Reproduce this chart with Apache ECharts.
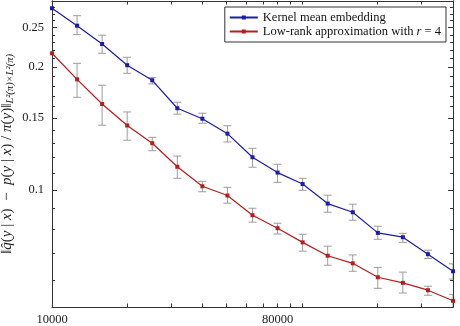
<!DOCTYPE html>
<html>
<head>
<meta charset="utf-8">
<script src="https://cdn.jsdelivr.net/npm/echarts@6/dist/echarts.min.js"></script>
<style>html,body{margin:0;padding:0;background:#fff;}#c{width:460px;height:326px;}</style>
</head>
<body>
<div id="c"></div>
<script>
// sample sizes (x)
const xValues = [10000, 12599, 15874, 20000, 25198, 31748, 40000, 50397, 63496, 80000, 100794, 126992, 160000, 201587, 253984, 320000, 403175];
// Kernel mean embedding
const kmeMean = [0.2788, 0.2527, 0.2279, 0.2022, 0.1857, 0.1586, 0.1495, 0.1374, 0.1203, 0.1103, 0.1034, 0.0926, 0.0882, 0.0785, 0.0766, 0.0696, 0.0632];
const kmeLow  = [0.2788, 0.2403, 0.2163, 0.1932, 0.1819, 0.1534, 0.1457, 0.1311, 0.1137, 0.1044, 0.0998, 0.0882, 0.0843, 0.0757, 0.0744, 0.0679, 0.0605];
const kmeHigh = [0.2788, 0.2674, 0.2395, 0.2115, 0.1887, 0.1641, 0.1542, 0.1437, 0.1265, 0.1156, 0.1068, 0.0971, 0.0923, 0.0815, 0.0783, 0.0712, 0.0659];
// Low-rank approximation with r = 4
const lrMean = [0.2163, 0.1867, 0.1624, 0.1439, 0.1302, 0.1140, 0.1021, 0.0969, 0.0867, 0.0806, 0.0744, 0.0690, 0.0661, 0.0611, 0.0592, 0.0568, 0.0535];
const lrLow  = [0.2163, 0.1687, 0.1441, 0.1324, 0.1248, 0.1068, 0.0990, 0.0928, 0.0834, 0.0780, 0.0708, 0.0654, 0.0632, 0.0574, 0.0559, 0.0552, 0.0515];
const lrHigh = [0.2163, 0.2044, 0.1806, 0.1553, 0.1346, 0.1211, 0.1050, 0.1015, 0.0902, 0.0829, 0.0779, 0.0728, 0.0693, 0.0646, 0.0629, 0.0581, 0.0555];
// ticks
const xTickLabelValues = [10000, 80000];
const xTickLabels = ['10000', '80000'];
const xTickValues = [10000, 20000, 30000, 40000, 50000, 60000, 70000, 80000, 90000, 100000, 200000, 300000];
const yTickLabelValues = [0.1, 0.15, 0.2, 0.25];
const yTickLabels = ['0.1', '0.15', '0.2', '0.25'];
const yMinorTickValues = [0.06, 0.07, 0.08, 0.09, 0.11, 0.12, 0.13, 0.14, 0.16, 0.17, 0.18, 0.19, 0.21, 0.22, 0.23, 0.24, 0.26, 0.27, 0.28];
const seriesNames = ['Kernel mean embedding', 'Low-rank approximation with r = 4'];

const FONT = 'Liberation Serif';
const X_MIN = 10000, X_MAX = 403175, Y_MIN = 0.05166, Y_MAX = 0.2905;
const BLUE = '#1c1caa', RED = '#b41e1e', ERR = '#9c9c9c';

function fmt(values, labels) {
  return v => {
    for (let i = 0; i < values.length; i++) if (Math.abs(v - values[i]) / values[i] < 1e-6) return labels[i];
    return '';
  };
}

function yAxisDef(pos, ticks, len, showLabel, name) {
  return {
    type: 'log', logBase: 10, min: Y_MIN, max: Y_MAX, position: pos,
    axisLine: {show: true, onZero: false, lineStyle: {color: '#333', width: 1}},
    axisTick: {show: true, inside: true, length: len, customValues: ticks, lineStyle: {color: '#333', width: 1}},
    axisLabel: showLabel ? {show: true, customValues: yTickLabelValues, formatter: fmt(yTickLabelValues, yTickLabels), fontFamily: FONT, fontSize: 12.5, color: '#222', margin: 8} : {show: false},
    splitLine: {show: false},
    name: name || '',
    nameLocation: 'middle',
    nameGap: 36,
    nameMoveOverlap: false,
    nameTextStyle: {
      fontFamily: FONT, fontSize: 15, color: '#222',
      rich: {
        n: {fontFamily: FONT, fontSize: 15, color: '#222'},
        i: {fontFamily: FONT, fontSize: 15, fontStyle: 'italic', color: '#222'},
        s: {fontFamily: FONT, fontSize: 10.5, fontStyle: 'italic', color: '#222', padding: [7, 0, 0, 0]}
      }
    }
  };
}
function xAxisDef(pos, showLabel) {
  return {
    type: 'log', logBase: 10, min: X_MIN, max: X_MAX, position: pos,
    axisLine: {show: true, onZero: false, lineStyle: {color: '#333', width: 1}},
    axisTick: {show: true, inside: true, length: 3.5, customValues: xTickValues, lineStyle: {color: '#333', width: 1}},
    axisLabel: showLabel ? {show: true, customValues: xTickLabelValues, formatter: fmt(xTickLabelValues, xTickLabels), fontFamily: FONT, fontSize: 12.5, color: '#222', margin: 6} : {show: false},
    splitLine: {show: false}
  };
}

const yName = '{n|‖}{i|q̂}{n|(}{i|y}{n| | }{i|x}{n|)  −  }{i|p}{n|(}{i|y}{n| | }{i|x}{n|) / }{i|π}{n|(}{i|y}{n|)‖}{s|L²(π)×L²(π)}';

function errData(lo, hi) { return xValues.map((x, i) => [x, lo[i], hi[i]]); }
function errRender(params, api) {
  const x = api.value(0), lo = api.value(1), hi = api.value(2);
  if (lo === hi) return null;
  const a = api.coord([x, lo]), b = api.coord([x, hi]);
  const w = 4;
  const st = {stroke: ERR, lineWidth: 1};
  return {type: 'group', children: [
    {type: 'line', shape: {x1: a[0], y1: a[1], x2: b[0], y2: b[1]}, style: st},
    {type: 'line', shape: {x1: a[0] - w, y1: a[1], x2: a[0] + w, y2: a[1]}, style: st},
    {type: 'line', shape: {x1: b[0] - w, y1: b[1], x2: b[0] + w, y2: b[1]}, style: st}
  ]};
}

const chart = echarts.init(document.getElementById('c'), null, {renderer: 'canvas'});
chart.setOption({
  animation: false,
  backgroundColor: '#fff',
  grid: {left: 52, right: 7, top: 1, bottom: 19, containLabel: false, outerBoundsMode: 'none'},
  xAxis: [xAxisDef('bottom', true), xAxisDef('top', false)],
  yAxis: [
    yAxisDef('left', yTickLabelValues, 5, true, yName),
    yAxisDef('left', yMinorTickValues, 3, false),
    yAxisDef('right', yTickLabelValues, 5, false),
    yAxisDef('right', yMinorTickValues, 3, false)
  ],
  legend: {
    data: seriesNames,
    orient: 'vertical',
    right: 14, top: 7,
    padding: [4, 5, 4, 4],
    itemWidth: 28, itemHeight: 5, itemGap: 1,
    borderColor: '#333', borderWidth: 1, borderRadius: 0,
    backgroundColor: '#fff',
    formatter: name => name === seriesNames[1] ? 'Low-rank approximation with {i|r} = 4' : name,
    textStyle: {fontFamily: FONT, fontSize: 12.5, color: '#111', padding: [0, 0, 0, 0],
      rich: {i: {fontFamily: FONT, fontSize: 12.5, fontStyle: 'italic', color: '#111'}}}
  },
  series: [
    {type: 'custom', name: 'err1', xAxisIndex: 0, yAxisIndex: 0, data: errData(kmeLow, kmeHigh), renderItem: errRender, encode: {x: 0, y: [1, 2]}, z: 1, clip: true, silent: true},
    {type: 'custom', name: 'err2', xAxisIndex: 0, yAxisIndex: 0, data: errData(lrLow, lrHigh), renderItem: errRender, encode: {x: 0, y: [1, 2]}, z: 1, clip: true, silent: true},
    {type: 'line', name: seriesNames[0], xAxisIndex: 0, yAxisIndex: 0, data: xValues.map((x, i) => [x, kmeMean[i]]),
      color: BLUE, lineStyle: {color: BLUE, width: 1.2}, itemStyle: {color: BLUE}, symbol: 'rect', symbolSize: 4, showSymbol: true, z: 3},
    {type: 'line', name: seriesNames[1], xAxisIndex: 0, yAxisIndex: 0, data: xValues.map((x, i) => [x, lrMean[i]]),
      color: RED, lineStyle: {color: RED, width: 1.2}, itemStyle: {color: RED}, symbol: 'rect', symbolSize: 4, showSymbol: true, z: 3}
  ]
});
</script>
</body>
</html>
